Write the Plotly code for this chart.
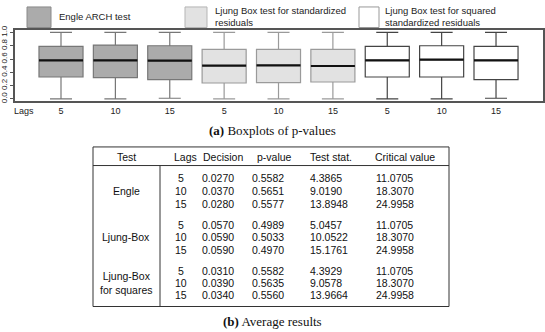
import plotly.graph_objects as go

W, H = 545, 332

# ---------------- data ----------------
lags = [5, 10, 15]
group_names = ["Engle ARCH test",
               "Ljung Box test for standardized<br>residuals",
               "Ljung Box test for squared<br>standardized residuals"]
positions = [1, 2, 3, 4, 5, 6, 7, 8, 9]

engle_lo = [0.00, 0.00, 0.01]
engle_q1 = [0.33, 0.32, 0.29]
engle_med = [0.58, 0.58, 0.575]
engle_q3 = [0.79, 0.81, 0.80]
engle_hi = [1.00, 1.00, 1.00]

lb_lo = [0.00, 0.00, 0.00]
lb_q1 = [0.24, 0.245, 0.255]
lb_med = [0.50, 0.505, 0.495]
lb_q3 = [0.745, 0.745, 0.745]
lb_hi = [1.00, 1.00, 1.00]

sq_lo = [0.00, 0.00, 0.01]
sq_q1 = [0.33, 0.33, 0.29]
sq_med = [0.58, 0.59, 0.58]
sq_q3 = [0.79, 0.80, 0.79]
sq_hi = [1.00, 1.00, 1.00]

y_ticks = [0.0, 0.2, 0.4, 0.6, 0.8, 1.0]

# table
table_header = ["Test", "Lags", "Decision", "p-value", "Test stat.", "Critical value"]
table_tests = ["Engle", "Ljung-Box", "Ljung-Box<br>for squares"]
table_lags = ["5", "10", "15"]
decision = [["0.0270", "0.0370", "0.0280"],
            ["0.0570", "0.0590", "0.0590"],
            ["0.0310", "0.0390", "0.0340"]]
pvalue = [["0.5582", "0.5651", "0.5577"],
          ["0.4989", "0.5033", "0.4970"],
          ["0.5582", "0.5635", "0.5560"]]
teststat = [["4.3865", "9.0190", "13.8948"],
            ["5.0457", "10.0522", "15.1761"],
            ["4.3929", "9.0578", "13.9664"]]
critical = [["11.0705", "18.3070", "24.9958"],
            ["11.0705", "18.3070", "24.9958"],
            ["11.0705", "18.3070", "24.9958"]]

caption_a = "<b>(a)</b> Boxplots of p-values"
caption_b = "<b>(b)</b> Average results"

# ---------------- helpers ----------------
def px(x):
    return x / W

def py(y):
    return 1 - y / H

SANS = "Liberation Sans, Arial, sans-serif"
SERIF = "Liberation Serif, Times New Roman, serif"

fig = go.Figure()

box_w = 0.81
groups = [
    (positions[0:3], engle_lo, engle_q1, engle_med, engle_q3, engle_hi, "#ababab", "#777777"),
    (positions[3:6], lb_lo, lb_q1, lb_med, lb_q3, lb_hi, "#e2e2e2", "#9a9a9a"),
    (positions[6:9], sq_lo, sq_q1, sq_med, sq_q3, sq_hi, "#ffffff", "#444444"),
]
for pos, lo, q1, med, q3, hi, fill, line in groups:
    fig.add_trace(go.Box(
        x=pos, lowerfence=lo, q1=q1, median=med, q3=q3, upperfence=hi,
        fillcolor=fill, line=dict(color=line, width=1.2),
        width=box_w, whiskerwidth=0.5, boxpoints=False, showlegend=False,
        hoverinfo="skip"))
    mx, my = [], []
    for p, m in zip(pos, med):
        mx += [p - box_w / 2, p + box_w / 2, None]
        my += [m, m, None]
    fig.add_trace(go.Scatter(x=mx, y=my, mode="lines",
                             line=dict(color="#111111", width=2.2),
                             showlegend=False, hoverinfo="skip"))

# ---------------- layout ----------------
plot_top, plot_bot = 26, 98
fig.update_layout(
    width=W, height=H,
    margin=dict(l=0, r=0, t=0, b=0),
    paper_bgcolor="white", plot_bgcolor="white",
    xaxis=dict(domain=[px(15), px(543)], range=[0.154, 9.864],
               tickvals=positions, ticktext=[str(l) for l in lags * 3],
               ticks="", showgrid=False, zeroline=False,
               showline=True, mirror=True, linecolor="#555555", linewidth=1.6,
               tickfont=dict(family=SANS, size=9, color="#222222")),
    yaxis=dict(domain=[py(plot_bot), py(plot_top)], range=[-0.03, 1.03],
               tickvals=y_ticks, ticktext=["%.1f" % v for v in y_ticks],
               tickangle=-90, ticks="outside", ticklen=3, tickcolor="#555555",
               showgrid=False, zeroline=False,
               showline=True, mirror=True, linecolor="#555555", linewidth=1.6,
               tickfont=dict(family=SANS, size=8, color="#222222")),
)

shapes = []
annotations = []

# legend swatches
legend_items = [
    (27, 51, 57, "#ababab", "#8a8a8a"),
    (185, 207, 213, "#e2e2e2", "#b5b5b5"),
    (359, 379, 383, "#ffffff", "#999999"),
]
for (x0, x1, tx, fill, line), name in zip(legend_items, group_names):
    shapes.append(dict(type="rect", xref="paper", yref="paper",
                       x0=px(x0), x1=px(x1), y0=py(23), y1=py(2),
                       fillcolor=fill, line=dict(color=line, width=1)))
    annotations.append(dict(xref="paper", yref="paper", x=px(tx), y=py(11.5),
                            text=name, showarrow=False, xanchor="left", yanchor="middle",
                            align="left",
                            font=dict(family=SANS, size=9.5, color="#222222")))

annotations.append(dict(xref="paper", yref="paper", x=px(24), y=py(108),
                        text="Lags", showarrow=False, xanchor="center", yanchor="middle",
                        font=dict(family=SANS, size=9, color="#222222")))

annotations.append(dict(xref="paper", yref="paper", x=px(272), y=py(128),
                        text=caption_a, showarrow=False, xanchor="center", yanchor="middle",
                        font=dict(family=SERIF, size=13, color="#111111")))

# table frame
t_left, t_right, t_top, t_head, t_bot, t_vline = 93, 449, 145, 164, 308, 160
shapes.append(dict(type="rect", xref="paper", yref="paper",
                   x0=px(t_left), x1=px(t_right), y0=py(t_bot), y1=py(t_top),
                   line=dict(color="#333333", width=1)))
shapes.append(dict(type="line", xref="paper", yref="paper",
                   x0=px(t_left), x1=px(t_right), y0=py(t_head), y1=py(t_head),
                   line=dict(color="#333333", width=1)))
shapes.append(dict(type="line", xref="paper", yref="paper",
                   x0=px(t_vline), x1=px(t_vline), y0=py(t_head), y1=py(t_bot),
                   line=dict(color="#333333", width=1)))

TF = dict(family=SANS, size=10.5, color="#111111")
head_x = [(126, "center"), (172, "left"), (201, "left"), (255, "left"), (308, "left"), (373, "left")]
for (hx, anc), txt in zip(head_x, table_header):
    annotations.append(dict(xref="paper", yref="paper", x=px(hx), y=py(155),
                            text=txt, showarrow=False, xanchor=anc, yanchor="middle", font=TF))

row_y = [[177, 190, 203], [225, 237, 250], [272, 284, 296]]
col_x = [200, 250, 308, 374]
for g in range(3):
    annotations.append(dict(xref="paper", yref="paper", x=px(126), y=py(row_y[g][1]),
                            text=table_tests[g], showarrow=False, xanchor="center",
                            yanchor="middle", align="center", font=TF))
    for r in range(3):
        yy = py(row_y[g][r])
        annotations.append(dict(xref="paper", yref="paper", x=px(181), y=yy,
                                text=table_lags[r], showarrow=False, xanchor="center",
                                yanchor="middle", font=TF))
        for cx, arr in zip(col_x, [decision, pvalue, teststat, critical]):
            annotations.append(dict(xref="paper", yref="paper", x=px(cx), y=yy,
                                    text=arr[g][r], showarrow=False, xanchor="left",
                                    yanchor="middle", font=TF))

annotations.append(dict(xref="paper", yref="paper", x=px(272), y=py(323),
                        text=caption_b, showarrow=False, xanchor="center", yanchor="middle",
                        font=dict(family=SERIF, size=13, color="#111111")))

fig.update_layout(shapes=shapes, annotations=annotations)
fig.write_html("out.html", config={"displayModeBar": False},
               post_script="document.body.style.margin='0';document.body.style.overflow='hidden';")
